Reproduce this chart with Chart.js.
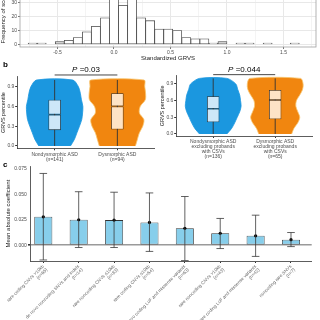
<!DOCTYPE html>
<html>
<head>
<meta charset="utf-8">
<script src="https://cdn.jsdelivr.net/npm/chart.js@4.4.1/dist/chart.umd.min.js"></script>
<style>
  html, body { margin: 0; padding: 0; background: #fff; }
  #fig { position: relative; width: 320px; height: 320px; overflow: hidden; font-family: "Liberation Sans", Arial, sans-serif; }
  #fig canvas { position: absolute; }
  .tag { position: absolute; font-weight: bold; font-size: 8px; line-height: 8px; color: #000; }
</style>
</head>
<body>
<div id="fig">
  <canvas id="hist" width="320" height="82" style="left:0;top:-20px"></canvas>
  <canvas id="violinAll" width="155" height="103" style="left:0;top:62px"></canvas>
  <canvas id="violinEx" width="165" height="105" style="left:155px;top:62px"></canvas>
  <canvas id="coef" width="320" height="158" style="left:0;top:162px"></canvas>
  <div class="tag" style="left:3px;top:61px">b</div>
  <div class="tag" style="left:3px;top:161px">c</div>
</div>
<script>
// ---- data ----
// a: histogram of standardized GRVS
const binCenters = [-0.72, -0.64, -0.56, -0.48, -0.40, -0.32, -0.24, -0.16, -0.08, 0.00,
  0.08, 0.16, 0.24, 0.32, 0.40, 0.48, 0.56, 0.64, 0.72, 0.80,
  0.88, 0.96, 1.04, 1.12, 1.20, 1.28, 1.36, 1.44, 1.52, 1.60];
const binCounts = [1, 1, 0, 2, 3, 5, 9, 13, 19, 39,
  28, 35, 19, 17, 11, 11, 10, 5, 4, 4,
  1, 2, 0, 1, 1, 0, 1, 0, 0, 1];
const histTicks = [-0.75, -0.5, -0.25, 0, 0.25, 0.5, 0.75, 1, 1.25, 1.5, 1.75];
const histTickLabels = ['', '-0.5', '', '0.0', '', '0.5', '', '1.0', '', '1.5', ''];

// b: GRVS percentile violins
const pctLevels = [0, 0.1, 0.2, 0.3, 0.4, 0.5, 0.6, 0.7, 0.8, 0.9, 1];
const densNondys = [0.56, 0.70, 0.79, 0.88, 0.96, 0.99, 1.00, 0.95, 0.91, 0.84, 0.64];
const densDys = [0.64, 0.71, 0.78, 0.90, 0.94, 0.78, 0.81, 0.99, 1.00, 0.97, 0.95];
const densNondysEx = [0.49, 0.66, 0.77, 0.86, 0.95, 1.00, 0.98, 0.95, 0.88, 0.81, 0.49];
const densDysEx = [0.59, 0.67, 0.81, 0.88, 0.81, 0.74, 0.76, 0.88, 0.98, 1.00, 0.91];
const boxQ1 = [0.24, 0.25];
const boxMedian = [0.475, 0.60];
const boxQ3 = [0.70, 0.80];
const boxQ1Ex = [0.21, 0.265];
const boxMedianEx = [0.455, 0.61];
const boxQ3Ex = [0.68, 0.79];
const whiskerLow = [0, 0];
const whiskerHigh = [1, 1];
const pctTicks = [0, 0.3, 0.6, 0.9];
const groupLabels = [['Nondysmorphic ASD', '(n=141)'], ['Dysmorphic ASD', '(n=94)']];
const groupLabelsEx = [
  ['Nondysmorphic ASD', 'excluding probands', 'with CSVs', '(n=136)'],
  ['Dysmorphic ASD', 'excluding probands', 'with CSVs', '(n=65)']
];

// c: mean absolute coefficient per variant class
const variantLabels = [
  ['rare coding CNVs >10kb', '(n=65)'],
  ['de novo noncoding SNVs and indels', '(n=14)'],
  ['rare noncoding CNVs \u226410kb', '(n=83)'],
  ['rare coding CNVs \u226410kb', '(n=54)'],
  ['de novo coding LoF and missense variants', '(n=63)'],
  ['rare noncoding CNVs >10kb', '(n=43)'],
  ['rare coding LoF and missense variants', '(n=42)'],
  ['noncoding rare SNVs', '(n=7)']
];
const coefMean = [0.0279, 0.0250, 0.0247, 0.0224, 0.0167, 0.0118, 0.0093, 0.0055];
const coefLow = [-0.0144, -0.0022, -0.0022, -0.0060, -0.0150, -0.0032, -0.0109, -0.0013];
const coefHigh = [0.0704, 0.0525, 0.0520, 0.0513, 0.0478, 0.0263, 0.0295, 0.0125];
const coefTicks = [0, 0.025, 0.05, 0.075];

// ---- shared look ----
Chart.defaults.font.family = '"Liberation Sans", Arial, sans-serif';
Chart.defaults.animation = false;
Chart.defaults.plugins.legend.display = false;
Chart.defaults.plugins.tooltip.enabled = false;

const TEXT = '#4d4d4d';
const AXIS = '#333';
const BLUE = '#1b97df';
const ORANGE = '#f1860f';
const violinHalf = 0.45;

// theme_bw style panel border
const panelFrame = {
  id: 'panelFrame',
  afterDraw(chart) {
    const a = chart.chartArea;
    const ctx = chart.ctx;
    ctx.save();
    ctx.strokeStyle = '#a0a0a0';
    ctx.lineWidth = 0.8;
    ctx.strokeRect(a.left, a.top, a.width, a.height);
    ctx.restore();
  }
};

// significance bracket between the two groups
const pBracket = {
  id: 'pBracket',
  afterDraw(chart, args, opts) {
    const { ctx, scales: { x, y } } = chart;
    const x1 = x.getPixelForValue(1);
    const x2 = x.getPixelForValue(2);
    const yl = y.getPixelForValue(opts.lineAt);
    const yt = y.getPixelForValue(opts.textAt);
    ctx.save();
    ctx.strokeStyle = AXIS;
    ctx.lineWidth = 0.9;
    ctx.beginPath();
    ctx.moveTo(x1, yl);
    ctx.lineTo(x2, yl);
    ctx.stroke();
    ctx.fillStyle = '#000';
    ctx.textBaseline = 'middle';
    ctx.textAlign = 'left';
    const fam = '"Liberation Sans", Arial, sans-serif';
    ctx.font = 'italic 8px ' + fam;
    const wP = ctx.measureText('P').width;
    ctx.font = '8px ' + fam;
    const rest = ' =' + opts.value;
    const wR = ctx.measureText(rest).width;
    const start = (x1 + x2) / 2 - (wP + wR) / 2;
    ctx.font = 'italic 8px ' + fam;
    ctx.fillText('P', start, yt);
    ctx.font = '8px ' + fam;
    ctx.fillText(rest, start + wP, yt);
    ctx.restore();
  }
};

// error bars for panel c
const errorBars = {
  id: 'errorBars',
  afterDatasetsDraw(chart) {
    const { ctx, scales: { x, y } } = chart;
    ctx.save();
    ctx.strokeStyle = '#3a3a3a';
    ctx.lineWidth = 0.8;
    coefMean.forEach((m, i) => {
      const px = x.getPixelForValue(i + 1);
      const lo = y.getPixelForValue(coefLow[i]);
      const hi = y.getPixelForValue(coefHigh[i]);
      ctx.beginPath();
      ctx.moveTo(px, lo); ctx.lineTo(px, hi);
      ctx.moveTo(px - 3.8, lo); ctx.lineTo(px + 3.8, lo);
      ctx.moveTo(px - 3.8, hi); ctx.lineTo(px + 3.8, hi);
      ctx.stroke();
    });
    ctx.restore();
  }
};

// ---- a: histogram ----
new Chart(document.getElementById('hist'), {
  type: 'bar',
  data: {
    datasets: [{
      data: binCenters.map((c, i) => ({ x: c, y: binCounts[i] })),
      backgroundColor: '#ffffff',
      borderColor: '#444',
      borderWidth: 0.8,
      borderSkipped: false,
      barPercentage: 1,
      categoryPercentage: 1
    }]
  },
  options: {
    responsive: false,
    layout: { padding: { top: 5.7, right: 4, left: 0, bottom: 0 } },
    scales: {
      x: {
        type: 'linear',
        offset: false,
        min: -0.832,
        max: 1.788,
        afterBuildTicks: (s) => { s.ticks = histTicks.map((v) => ({ value: v })); },
        afterFit: (s) => { s.height = 15; },
        ticks: {
          font: { size: 5 }, color: TEXT, padding: 1, maxRotation: 0, autoSkip: false,
          callback: (v, i) => histTickLabels[i]
        },
        grid: {
          offset: false,
          color: (c) => (histTickLabels[c.index] ? '#e8e8e8' : '#f4f4f4'),
          tickLength: 2,
          tickColor: (c) => (histTickLabels[c.index] ? '#777' : 'rgba(0,0,0,0)')
        },
        border: { display: false },
        title: { display: true, text: 'Standardized GRVS', font: { size: 6 }, color: '#222', padding: 0 }
      },
      y: {
        min: -1.8,
        max: 42,
        afterFit: (s) => { s.width = 20; },
        ticks: {
          stepSize: 5, includeBounds: false, font: { size: 5 }, color: TEXT, padding: 1,
          callback: (v) => (v % 10 === 0 ? String(v) : '')
        },
        grid: {
          color: (c) => (c.tick && c.tick.value % 10 === 0 ? '#e8e8e8' : '#f4f4f4'),
          tickLength: 2,
          tickColor: (c) => (c.tick && c.tick.value % 10 === 0 ? '#777' : 'rgba(0,0,0,0)')
        },
        border: { display: false },
        title: { display: true, text: 'Frequency of scores', font: { size: 6 }, color: '#222', padding: { top: 0, bottom: 0 } }
      }
    }
  },
  plugins: [panelFrame]
});

// ---- b: violins ----
function violinOutline(center, dens) {
  const left = pctLevels.map((p, i) => ({ x: center - violinHalf * dens[i], y: p }));
  const right = pctLevels.map((p, i) => ({ x: center + violinHalf * dens[i], y: p })).reverse();
  return left.concat(right);
}

function createViolinChart(canvasId, labels, dens, q1, med, q3, cfg) {
  const datasets = [];
  const fills = [BLUE, ORANGE];
  const edges = [BLUE, '#f7c56f'];
  const boxFills = ['#cde7f8', '#fde3c6'];
  dens.forEach((d, i) => {
    datasets.push({
      type: 'line',
      data: violinOutline(i + 1, d),
      backgroundColor: fills[i],
      borderColor: edges[i],
      borderWidth: 0.8,
      fill: 'shape',
      tension: 0.3,
      pointRadius: 0,
      order: 3
    });
    datasets.push({
      type: 'line',
      data: [{ x: i + 1, y: whiskerLow[i] }, { x: i + 1, y: whiskerHigh[i] }],
      borderColor: AXIS,
      borderWidth: 0.9,
      fill: false,
      pointRadius: 0,
      order: 2
    });
  });
  datasets.push({
    type: 'bar',
    data: q1.map((v, i) => ({ x: i + 1, y: [v, med[i]] })),
    backgroundColor: boxFills,
    borderColor: AXIS,
    borderWidth: 0.8,
    borderSkipped: false,
    grouped: false,
    barPercentage: 0.2,
    categoryPercentage: 1,
    order: 1
  });
  datasets.push({
    type: 'bar',
    data: q3.map((v, i) => ({ x: i + 1, y: [med[i], v] })),
    backgroundColor: boxFills,
    borderColor: AXIS,
    borderWidth: 0.8,
    borderSkipped: false,
    grouped: false,
    barPercentage: 0.2,
    categoryPercentage: 1,
    order: 1
  });

  return new Chart(document.getElementById(canvasId), {
    type: 'bar',
    data: { datasets: datasets },
    options: {
      responsive: false,
      layout: { padding: { top: cfg.top, right: cfg.right, left: 0, bottom: 0 } },
      scales: {
        x: {
          type: 'linear',
          offset: false,
          min: 0.4,
          max: 2.6,
          afterBuildTicks: (s) => { s.ticks = labels.map((_, i) => ({ value: i + 1 })); },
          afterFit: (s) => { s.height = cfg.xHeight; },
          ticks: {
            font: { size: 5, lineHeight: cfg.lineHeight }, color: TEXT, padding: 1.5,
            maxRotation: 0, autoSkip: false,
            callback: (v, i) => labels[i]
          },
          grid: { offset: false, drawOnChartArea: false, tickLength: 2, tickColor: AXIS },
          border: { display: true, color: AXIS, width: 0.8 }
        },
        y: {
          min: cfg.yMin,
          max: 1.05,
          afterBuildTicks: (s) => { s.ticks = pctTicks.map((v) => ({ value: v })); },
          afterFit: (s) => { s.width = cfg.yWidth; },
          ticks: { font: { size: 5 }, color: TEXT, padding: 0.8, callback: (v) => v.toFixed(1) },
          grid: { drawOnChartArea: false, tickLength: 1.8, tickColor: AXIS },
          border: { display: true, color: AXIS, width: 0.8 },
          title: { display: true, text: 'GRVS percentile', font: { size: 5.5 }, color: '#222', padding: { top: cfg.titlePad, bottom: 0 } }
        }
      },
      plugins: {
        pBracket: { lineAt: cfg.lineAt, textAt: cfg.textAt, value: cfg.pValue }
      }
    },
    plugins: [pBracket]
  });
}

createViolinChart('violinAll', groupLabels, [densNondys, densDys], boxQ1, boxMedian, boxQ3, {
  top: 14.7, right: 0, xHeight: 16.7, yWidth: 17, yMin: -0.035, lineHeight: 1.0,
  titlePad: 0, lineAt: 1.076, textAt: 1.15, pValue: '0.03'
});

createViolinChart('violinEx', groupLabelsEx, [densNondysEx, densDysEx], boxQ1Ex, boxMedianEx, boxQ3Ex, {
  top: 13.6, right: 7.6, xHeight: 31, yWidth: 21, yMin: -0.036, lineHeight: 0.95,
  titlePad: 4, lineAt: 1.067, textAt: 1.15, pValue: '0.044'
});

// ---- c: coefficients ----
new Chart(document.getElementById('coef'), {
  type: 'bar',
  data: {
    datasets: [
      {
        type: 'line',
        data: coefMean.map((v, i) => ({ x: i + 1, y: v })),
        showLine: false,
        pointRadius: 1.6,
        pointBackgroundColor: '#000',
        pointBorderWidth: 0,
        order: 0
      },
      {
        type: 'bar',
        data: coefMean.map((v, i) => ({ x: i + 1, y: v })),
        backgroundColor: '#87ceeb',
        borderColor: AXIS,
        borderWidth: 0.8,
        borderSkipped: false,
        barPercentage: 0.51,
        categoryPercentage: 1,
        order: 1
      }
    ]
  },
  options: {
    responsive: false,
    layout: { padding: { top: 2.4, right: 8.3, left: 0, bottom: 0 } },
    scales: {
      x: {
        type: 'linear',
        offset: false,
        min: 0.624,
        max: 8.585,
        afterBuildTicks: (s) => { s.ticks = variantLabels.map((_, i) => ({ value: i + 1 })); },
        afterFit: (s) => { s.height = 59; },
        ticks: {
          font: { size: 4.6, lineHeight: 1.05 }, color: '#666', padding: 1,
          minRotation: 45, maxRotation: 45, autoSkip: false,
          callback: (v, i) => variantLabels[i]
        },
        grid: { offset: false, drawOnChartArea: false, tickLength: 2, tickColor: AXIS },
        border: { display: true, color: AXIS, width: 0.8 }
      },
      y: {
        min: -0.0154,
        max: 0.0775,
        afterBuildTicks: (s) => { s.ticks = coefTicks.map((v) => ({ value: v })); },
        afterFit: (s) => { s.width = 30; },
        ticks: { font: { size: 5 }, color: TEXT, padding: 1.2, callback: (v) => v.toFixed(3) },
        grid: {
          color: (c) => (c.tick && c.tick.value === 0 ? '#9a9a9a' : 'rgba(0,0,0,0)'),
          lineWidth: (c) => (c.tick && c.tick.value === 0 ? 1.6 : 0),
          tickLength: 2,
          tickColor: AXIS
        },
        border: { display: true, color: AXIS, width: 0.8 },
        title: { display: true, text: 'Mean absolute coefficient', font: { size: 6 }, color: '#222', padding: { top: 5, bottom: 0 } }
      }
    }
  },
  plugins: [errorBars]
});
</script>
</body>
</html>
